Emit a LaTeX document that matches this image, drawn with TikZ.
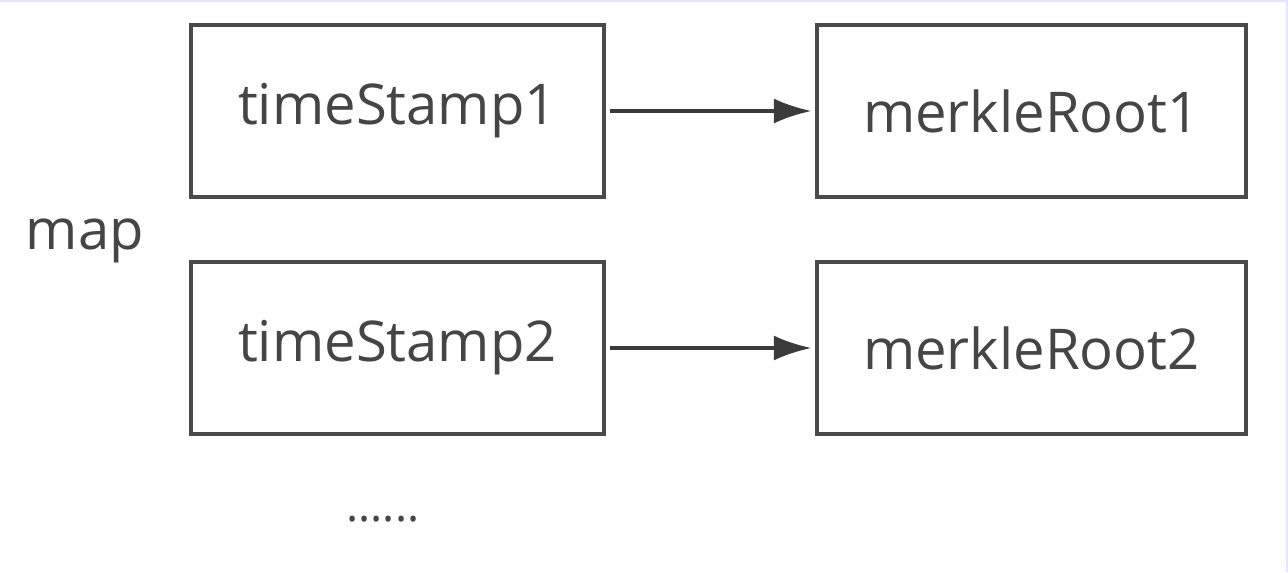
\documentclass[tikz,border=0pt]{standalone}
\usepackage{fontspec}
\setmainfont{Open Sans}
\usepackage{tikz}
\usetikzlibrary{arrows.meta}
\tikzset{>={Latex[length=0.75cm,width=0.5cm]}}
\definecolor{boxline}{HTML}{4A4A4A}
\definecolor{txt}{HTML}{454545}
\tikzset{
  entry/.style={draw=boxline, line width=1.9pt, minimum height=3.44cm, text=txt, font=\fontsize{32}{38}\selectfont},
  keybox/.style={entry, minimum width=8.26cm},
  valbox/.style={entry, minimum width=8.58cm},
  link/.style={draw=boxline!80!black, line width=1.9pt, ->, shorten <=0.08cm, shorten >=0.08cm}
}

\begin{document}
\begin{tikzpicture}[x=0.02cm,y=-0.02cm]
\useasboundingbox[fill=white] (0,0) rectangle (1288,572);
\draw[color=blue!10, line width=0.8pt] (0,1)--(1287,1)--(1287,572);

    \node[keybox] (ts1) at (397.5,111) {timeStamp1};
    \node[valbox] (mr1) at (1031.5,111) {merkleRoot1};
    \node[keybox] (ts2) at (397.5,348) {timeStamp2};
    \node[valbox] (mr2) at (1031.5,348) {merkleRoot2};

\node[text=txt, font=\fontsize{32}{38}\selectfont] (map) at (85,241) {map};
\node[text=txt, font=\fontsize{26}{30}\selectfont] (dots) at (383,519) {......};

\draw[link] (ts1) -- (mr1);
\draw[link] (ts2) -- (mr2);

\end{tikzpicture}
\end{document}
